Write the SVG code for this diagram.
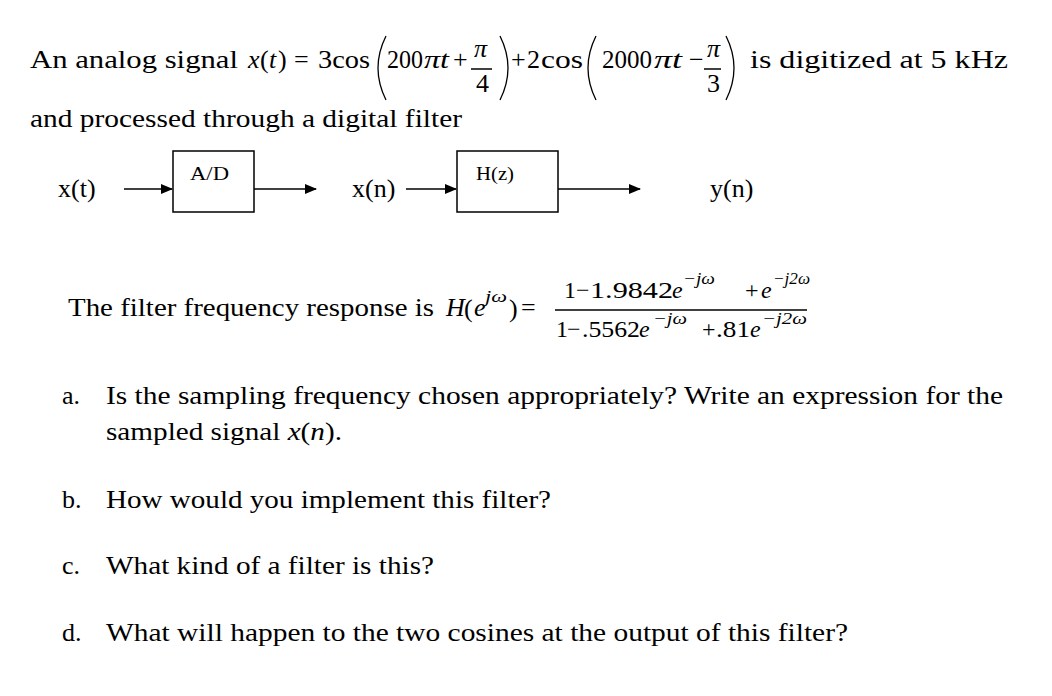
<svg xmlns="http://www.w3.org/2000/svg" width="1052" height="696" viewBox="0 0 1052 696">
<style>
text{font-family:"Liberation Serif","Times New Roman",serif;font-size:26px;fill:#000}
.i{font-style:italic}
.f{font-size:24px}
.s{font-size:16px;font-style:italic}
.b{font-size:19px}
.box{fill:#fff;stroke:#000;stroke-width:1.5}
.ln{stroke:#000;stroke-width:1.5;fill:none}
.pr{stroke:#000;stroke-width:1.3;fill:none}
</style>
<defs><marker id="a" markerWidth="12" markerHeight="10" refX="11" refY="5" orient="auto" markerUnits="userSpaceOnUse"><path d="M0,0 L12,5 L0,10 Z" fill="#000"/></marker></defs>
<rect width="1052" height="696" fill="#fff"/>
<g id="line1">
<text x="30" y="68" textLength="208" lengthAdjust="spacingAndGlyphs">An analog signal</text>
<text x="248" y="68" class="i">x</text>
<text x="260" y="68">(</text><text x="269" y="68" class="i">t</text><text x="278" y="68">)</text>
<text x="294" y="68">=</text>
<text x="318" y="68" textLength="52" lengthAdjust="spacingAndGlyphs">3cos</text>
<path class="pr" d="M386,36 Q370,68 386,100"/>
<text x="387" y="68" textLength="36" lengthAdjust="spacingAndGlyphs">200</text>
<text x="424" y="68" class="i" textLength="25" lengthAdjust="spacingAndGlyphs">πt</text>
<text x="453" y="68">+</text>
<text x="474" y="57" class="i">π</text><line class="ln" x1="471" y1="69" x2="492" y2="69" stroke-width="1.2"/><text x="476" y="92">4</text>
<path class="pr" d="M500,36 Q516,68 500,100"/>
<text x="511" y="68">+</text>
<text x="527" y="68">2</text>
<text x="541" y="68" textLength="42" lengthAdjust="spacingAndGlyphs">cos</text>
<path class="pr" d="M596,36 Q580,68 596,100"/>
<text x="602" y="68" textLength="50" lengthAdjust="spacingAndGlyphs">2000</text>
<text x="654" y="68" class="i" textLength="28" lengthAdjust="spacingAndGlyphs">πt</text>
<text x="689" y="68">−</text>
<text x="707" y="57" class="i">π</text><line class="ln" x1="704" y1="69" x2="721" y2="69" stroke-width="1.2"/><text x="707" y="92">3</text>
<path class="pr" d="M726,36 Q742,68 726,100"/>
<text x="750" y="68" textLength="258" lengthAdjust="spacingAndGlyphs">is digitized at 5 kHz</text>
<text x="30" y="127" textLength="432" lengthAdjust="spacingAndGlyphs">and processed through a digital filter</text>
</g>
<g id="xt"><text x="58" y="197">x(t)</text></g>
<g id="ad"><rect class="box" x="173" y="151" width="81" height="61"/><text x="190" y="180" class="b" textLength="39" lengthAdjust="spacingAndGlyphs">A/D</text></g>
<g id="xn"><text x="352" y="197">x(n)</text></g>
<g id="hz"><rect class="box" x="457" y="151" width="101" height="61"/><text x="476" y="180" class="b" textLength="38" lengthAdjust="spacingAndGlyphs">H(z)</text></g>
<g id="yn"><text x="710" y="197">y(n)</text></g>
<g id="connectors">
<line class="ln" x1="124" y1="189" x2="172" y2="189" marker-end="url(#a)"/>
<line class="ln" x1="254" y1="189" x2="316" y2="189" marker-end="url(#a)"/>
<line class="ln" x1="406" y1="189" x2="456" y2="189" marker-end="url(#a)"/>
<line class="ln" x1="558" y1="189" x2="640" y2="189" marker-end="url(#a)"/>
</g>
<g id="filter">
<text x="68" y="316" textLength="366" lengthAdjust="spacingAndGlyphs">The filter frequency response is</text>
<text x="446" y="316" class="i">H</text>
<text x="464" y="317" font-size="28">(</text>
<text x="474" y="316" class="i">e</text><text x="485" y="302" class="s" textLength="22" lengthAdjust="spacingAndGlyphs">jω</text>
<text x="509" y="317" font-size="28">)</text>
<text x="521" y="316">=</text>
<text x="564" y="298" class="f">1</text><text x="576" y="298" class="f">−</text>
<text x="590" y="298" class="f" textLength="83" lengthAdjust="spacingAndGlyphs">1.9842</text>
<text x="672" y="298" class="f i">e</text><text x="683" y="284" class="s" textLength="32" lengthAdjust="spacingAndGlyphs">−jω</text>
<text x="745" y="298" class="f">+</text><text x="761" y="298" class="f i">e</text>
<text x="773" y="284" class="s" textLength="37" lengthAdjust="spacingAndGlyphs">−j2ω</text>
<line class="ln" x1="555" y1="310" x2="807" y2="310" stroke-width="1.2"/>
<text x="556" y="337" class="f">1</text><text x="567" y="337" class="f">−</text>
<text x="582" y="337" class="f" textLength="58" lengthAdjust="spacingAndGlyphs">.5562</text>
<text x="639" y="337" class="f i">e</text><text x="653" y="324" class="s" textLength="34" lengthAdjust="spacingAndGlyphs">−jω</text>
<text x="702" y="337" class="f">+</text>
<text x="716" y="337" class="f" textLength="34" lengthAdjust="spacingAndGlyphs">.81</text>
<text x="750" y="337" class="f i">e</text><text x="762" y="324" class="s" textLength="45" lengthAdjust="spacingAndGlyphs">−j2ω</text>
</g>
<g id="questions">
<text x="62" y="404">a.</text>
<text x="106" y="404" textLength="897" lengthAdjust="spacingAndGlyphs">Is the sampling frequency chosen appropriately? Write an expression for the</text>
<text x="106" y="440" textLength="236" lengthAdjust="spacingAndGlyphs">sampled signal <tspan class="i">x</tspan>(<tspan class="i">n</tspan>).</text>
<text x="62" y="508">b.</text><text x="106" y="508" textLength="445" lengthAdjust="spacingAndGlyphs">How would you implement this filter?</text>
<text x="62" y="574">c.</text><text x="106" y="574" textLength="328" lengthAdjust="spacingAndGlyphs">What kind of a filter is this?</text>
<text x="62" y="641">d.</text><text x="106" y="641" textLength="742" lengthAdjust="spacingAndGlyphs">What will happen to the two cosines at the output of this filter?</text>
</g>
</svg>
